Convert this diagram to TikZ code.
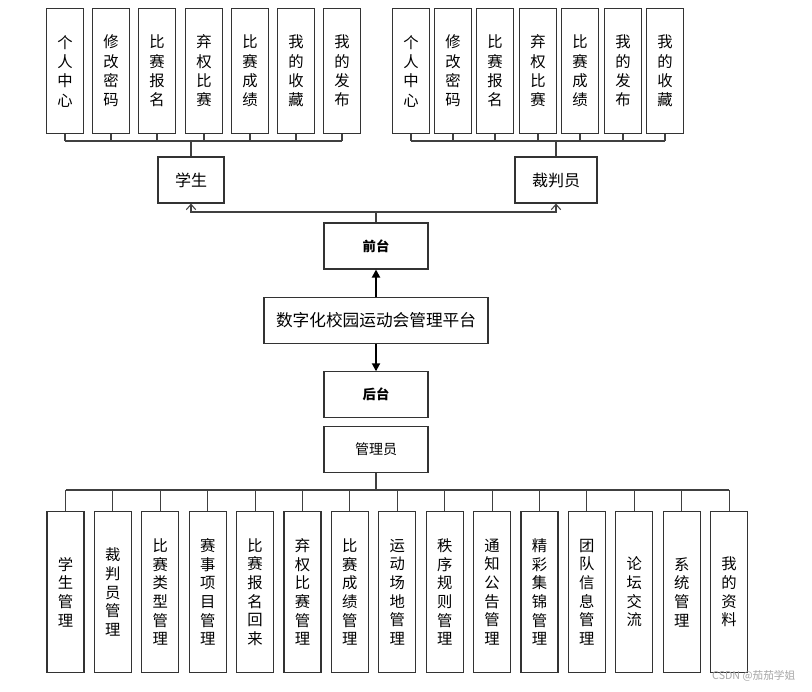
\documentclass[tikz,border=0pt]{standalone}
\usepackage{fontspec}
\setmainfont{Noto Sans CJK SC}
\usetikzlibrary{arrows.meta}
\begin{document}
\begin{tikzpicture}[x=0.75pt,y=-0.75pt,
  box/.style={draw=black!80,line width=0.8pt,fill=white,inner sep=0pt,font=\fontsize{11.5}{14.5}\selectfont,align=center},
  vbox/.style={box,minimum width=27.75pt,anchor=north},
  conn/.style={draw=black!75,line width=0.8pt},
  bigarr/.style={draw=black,line width=1.4pt,-{Triangle[length=6pt,width=6pt]}}]
\useasboundingbox (0,0) rectangle (812,691);
% top left
\foreach \x/\t/\n in {65/个\\人\\中\\心/a1,111/修\\改\\密\\码/a2,157/比\\赛\\报\\名/a3,204/弃\\权\\比\\赛/a4,250/比\\赛\\成\\绩/a5,296/我\\的\\收\\藏/a6,342/我\\的\\发\\布/a7}
  \node[vbox,minimum height=93.75pt] (\n) at (\x,8) {\t};
\foreach \x/\t/\n in {411/个\\人\\中\\心/b1,453/修\\改\\密\\码/b2,495/比\\赛\\报\\名/b3,538/弃\\权\\比\\赛/b4,580/比\\赛\\成\\绩/b5,623/我\\的\\发\\布/b6,665/我\\的\\收\\藏/b7}
  \node[vbox,minimum height=93.75pt] (\n) at (\x,8) {\t};
\node[box,minimum width=49.5pt,minimum height=34.5pt,font=\fontsize{12}{14}\selectfont] (stu) at (191,180) {学生};
\node[box,minimum width=61.5pt,minimum height=34.5pt,font=\fontsize{12}{14}\selectfont] (ref) at (556,180) {裁判员};
\node[box,minimum width=78pt,minimum height=34.5pt,font=\fontsize{10}{12}\selectfont\bfseries] (qt) at (376,246) {前台};
\node[box,minimum width=168pt,minimum height=34pt,font=\fontsize{12.5}{14}\selectfont] (main) at (376,320.5) {数字化校园运动会管理平台};
\node[box,minimum width=78pt,minimum height=34pt,font=\fontsize{10}{12}\selectfont\bfseries] (ht) at (376,394.5) {后台};
\node[box,minimum width=78pt,minimum height=34pt,font=\fontsize{10.5}{12}\selectfont] (adm) at (376,449.5) {管理员};
% top connectors
\coordinate (busL) at (0,141); \coordinate (busR) at (0,141);
\foreach \n in {a1,a2,a3,a4,a5,a6,a7} \draw[conn] (\n.south) -- (\n.south |- busL);
\draw[conn] (a1.south |- busL) -- (a7.south |- busL);
\draw[conn,line width=1.4pt] (stu.north) -- (stu.north |- busL);
\foreach \n in {b1,b2,b3,b4,b5,b6,b7} \draw[conn] (\n.south) -- (\n.south |- busR);
\draw[conn] (b1.south |- busR) -- (b7.south |- busR);
\draw[conn,line width=1.2pt] (ref.north) -- (ref.north |- busR);
\coordinate (split) at (376,212);
\draw[conn] (qt.north) -- (split);
\draw[conn,-{Straight Barb[length=4pt,width=7pt]}] (split) -| (stu.south);
\draw[conn,-{Straight Barb[length=4pt,width=7pt]}] (split) -| (ref.south);
\draw[bigarr] (main.north) -- (qt.south);
\draw[bigarr] (main.south) -- (ht.north);
% bottom
\foreach \i/\t in {0/学\\生\\管\\理,1/裁\\判\\员\\管\\理,2/比\\赛\\类\\型\\管\\理,3/赛\\事\\项\\目\\管\\理,4/比\\赛\\报\\名\\回\\来,5/弃\\权\\比\\赛\\管\\理,6/比\\赛\\成\\绩\\管\\理,7/运\\动\\场\\地\\管\\理,8/秩\\序\\规\\则\\管\\理,9/通\\知\\公\\告\\管\\理,10/精\\彩\\集\\锦\\管\\理,11/团\\队\\信\\息\\管\\理,12/论\\坛\\交\\流,13/系\\统\\管\\理,14/我\\的\\资\\料}
  \node[vbox,minimum height=120.75pt,font=\fontsize{11.5}{14}\selectfont] (c\i) at ({65.5+47.4*\i},511) {\t};
\coordinate (busB) at (0,490);
\draw[conn] (adm.south) -- (adm.south |- busB);
\draw[conn] (c0.north |- busB) -- (c14.north |- busB);
\foreach \i in {0,...,14} \draw[conn] (c\i.north) -- (c\i.north |- busB);
\node[text=black!35,font=\fontsize{8}{10}\selectfont,anchor=east] (wm) at (800,676) {CSDN @茄茄学姐};
\end{tikzpicture}
\end{document}
